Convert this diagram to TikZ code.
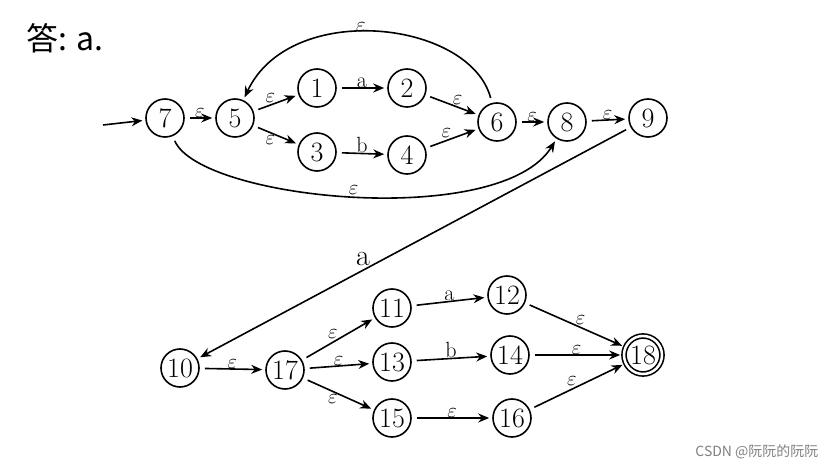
\documentclass[tikz,border=0pt]{standalone}
\usepackage{fontspec}
\newfontfamily\cjk{Noto Sans CJK SC}
\usetikzlibrary{arrows.meta}
\begin{document}
\begin{tikzpicture}[x=1pt,y=-1pt,
  st/.style={circle,draw,line width=1.6pt,minimum size=38pt,inner sep=0pt,font=\fontsize{28}{30}\selectfont},
  acc/.style={st,double,double distance=2.5pt},
  ed/.style={-{Stealth[length=11pt,width=9pt]},line width=1.6pt,shorten <=5pt,shorten >=3pt},
  lb/.style={font=\fontsize{22}{24}\selectfont,inner sep=0pt}]
\useasboundingbox (0,0) rectangle (831,470);
\node[font=\cjk\fontsize{32}{36}\selectfont] (title) at (65,38) {答: a.};
\node[st] (7) at (165,118) {7};
\node[st] (5) at (235,118) {5};
\node[st] (1) at (317,88) {1};
\node[st] (2) at (407,88) {2};
\node[st] (3) at (317,152) {3};
\node[st] (4) at (407,155) {4};
\node[st] (6) at (497,122) {6};
\node[st] (8) at (567,122) {8};
\node[st] (9) at (648,118) {9};
\node[st] (10) at (180,368) {10};
\node[st] (17) at (285,370) {17};
\node[st] (11) at (392,308) {11};
\node[st] (12) at (507,295) {12};
\node[st] (13) at (392,362) {13};
\node[st] (14) at (510,355) {14};
\node[st] (15) at (392,418) {15};
\node[st] (16) at (512,418) {16};
\node[acc] (18) at (643,355) {18};
\coordinate (s) at (103,125);
\draw[ed,shorten <=0pt] (s) -- (7);
\draw[ed] (7) -- node[lb,above]{$\varepsilon$} (5);
\draw[ed] (5) -- node[lb,above left]{$\varepsilon$} (1);
\draw[ed] (5) -- node[lb,below left]{$\varepsilon$} (3);
\draw[ed] (1) -- node[lb,above]{a} (2);
\draw[ed] (3) -- node[lb,above]{b} (4);
\draw[ed] (2) -- node[lb,above right]{$\varepsilon$} (6);
\draw[ed] (4) -- node[lb,above left]{$\varepsilon$} (6);
\draw[ed] (6) -- node[lb,above]{$\varepsilon$} (8);
\draw[ed] (8) -- node[lb,above]{$\varepsilon$} (9);
\draw[ed] (6) .. controls (470,20) and (290,0) .. node[lb,above,pos=0.55]{$\varepsilon$} (5);
\draw[ed] (7) .. controls (200,200) and (500,230) .. node[lb,above,pos=0.5]{$\varepsilon$} (8);
\draw[ed] (9) -- node[lb,above left,pos=0.6,font=\fontsize{30}{32}\selectfont]{a} (10);
\draw[ed] (10) -- node[lb,above]{$\varepsilon$} (17);
\draw[ed] (17) -- node[lb,above left]{$\varepsilon$} (11);
\draw[ed] (17) -- node[lb,above]{$\varepsilon$} (13);
\draw[ed] (17) -- node[lb,below left]{$\varepsilon$} (15);
\draw[ed] (11) -- node[lb,above]{a} (12);
\draw[ed] (13) -- node[lb,above]{b} (14);
\draw[ed] (15) -- node[lb,above]{$\varepsilon$} (16);
\draw[ed] (12) -- node[lb,above right]{$\varepsilon$} (18);
\draw[ed] (14) -- node[lb,above]{$\varepsilon$} (18);
\draw[ed] (16) -- node[lb,above left]{$\varepsilon$} (18);
\node[text=gray,font=\cjk\fontsize{14}{16}\selectfont,anchor=east] (wm) at (822,452) {CSDN @阮阮的阮阮};
\end{tikzpicture}
\end{document}
